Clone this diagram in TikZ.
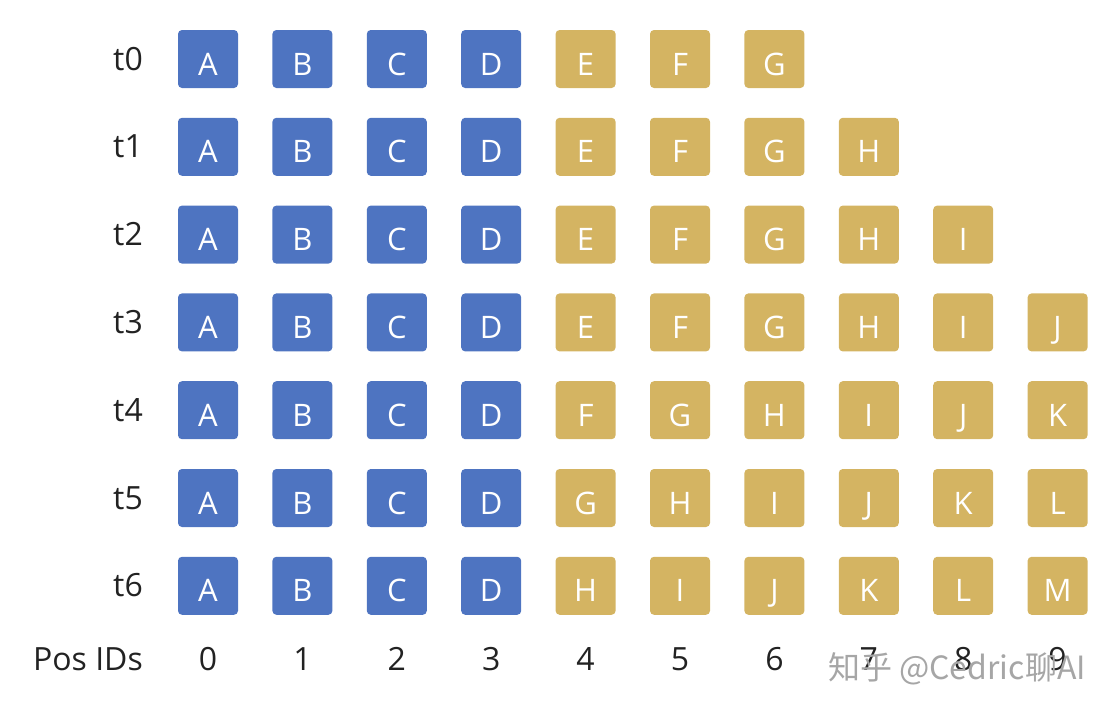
\documentclass[tikz,border=0pt]{standalone}
\usepackage{fontspec}
\setmainfont{Open Sans}
\newfontfamily\cjkfont{Noto Sans CJK SC}
\usetikzlibrary{positioning}
\definecolor{tokblue}{HTML}{4E74C1}
\definecolor{tokgold}{HTML}{D4B462}
\definecolor{lbltext}{HTML}{222222}

\begin{document}
\begin{tikzpicture}[x=1pt,y=-1pt]
\tikzstyle{tok}=[rectangle, rounded corners=4pt, minimum width=60pt, minimum height=58pt, inner sep=0pt, text=white, text height=32pt, text depth=0pt, font=\fontsize{31}{36}\selectfont]
\tikzstyle{prompt}=[tok, fill=tokblue]
\tikzstyle{gen}=[tok, fill=tokgold]
\tikzstyle{step label}=[anchor=east, inner sep=0pt, text=lbltext, text height=22pt, text depth=0pt, font=\fontsize{32}{36}\selectfont]
\tikzstyle{posid}=[anchor=base, inner sep=0pt, text=lbltext, font=\fontsize{32}{36}\selectfont]

  \useasboundingbox (0,0) rectangle (1120,715);

  % prompt tokens, same in every step
  \foreach \r in {0,...,6} {
    \node[step label] (t\r) at (143, 59+87.8*\r) {t\r};
    \foreach \l [count=\c from 0] in {A,B,C,D}
      \node[prompt] (r\r c\c) at (208+94.4*\c, 59+87.8*\r) {\l};
  }

  % generated tokens, window slides from t4 on
  \foreach \l [count=\c from 4] in {E,F,G}
    \node[gen] (r0c\c) at (208+94.4*\c, 59) {\l};
  \foreach \l [count=\c from 4] in {E,F,G,H}
    \node[gen] (r1c\c) at (208+94.4*\c, 146.8) {\l};
  \foreach \l [count=\c from 4] in {E,F,G,H,I}
    \node[gen] (r2c\c) at (208+94.4*\c, 234.6) {\l};
  \foreach \l [count=\c from 4] in {E,F,G,H,I,J}
    \node[gen] (r3c\c) at (208+94.4*\c, 322.4) {\l};
  \foreach \l [count=\c from 4] in {F,G,H,I,J,K}
    \node[gen] (r4c\c) at (208+94.4*\c, 410.2) {\l};
  \foreach \l [count=\c from 4] in {G,H,I,J,K,L}
    \node[gen] (r5c\c) at (208+94.4*\c, 498) {\l};
  \foreach \l [count=\c from 4] in {H,I,J,K,L,M}
    \node[gen] (r6c\c) at (208+94.4*\c, 585.8) {\l};

  % position ids
  \node[posid, anchor=base east] (posids) at (143, 670) {Pos IDs};
  \foreach \c in {0,...,9}
    \node[posid] (p\c) at (208+94.4*\c, 670) {\c};

  \node[anchor=base, inner sep=0pt, text=black!35, font=\cjkfont\fontsize{32}{36}\selectfont] (mark) at (957, 679) {知乎 @Cedric聊AI};

\end{tikzpicture}
\end{document}
